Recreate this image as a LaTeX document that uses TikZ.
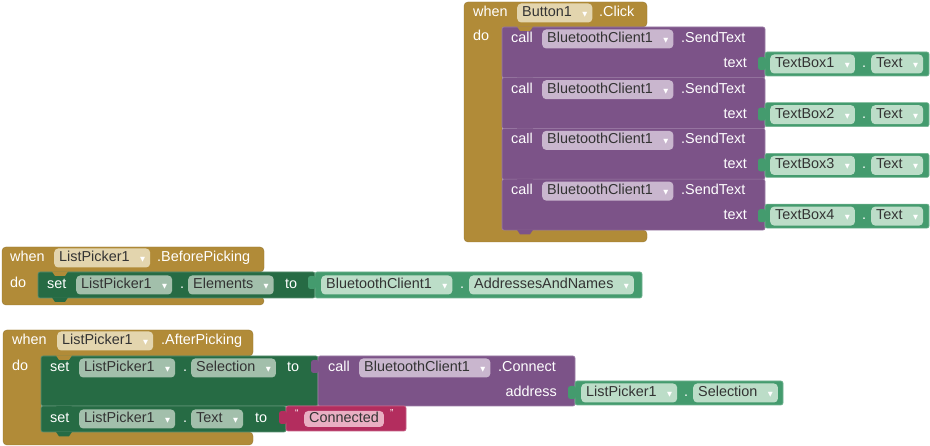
\documentclass[tikz,border=0pt]{standalone}
\usepackage{fontspec}
\setmainfont{Liberation Sans}
\newfontfamily\symfam{DejaVu Sans}
\usetikzlibrary{positioning}

\definecolor{evt}{HTML}{B18B38}
\definecolor{evtpill}{HTML}{E3D5AE}
\definecolor{proc}{HTML}{7C5388}
\definecolor{procpill}{HTML}{C9B6CE}
\definecolor{setc}{HTML}{266B44}
\definecolor{setpill}{HTML}{A2BFAB}
\definecolor{getc}{HTML}{449B6E}
\definecolor{getpill}{HTML}{BCDDC8}
\definecolor{txtc}{HTML}{B32D5E}
\definecolor{txtpill}{HTML}{E9AFC3}
\definecolor{pilltxt}{HTML}{333333}

\newcommand{\lblfont}{\fontsize{14.4}{16}\selectfont}
\newcommand{\dd}{\hspace{10.5pt}{\symfam\fontsize{6.5}{7}\selectfont\textcolor{white}{▼}}\hspace{7pt}}
% small statement bump hanging under a block
\newcommand{\notch}[3]{\fill[#3] (#1,#2-0.5) -- (#1+3,#2+4) -- (#1+13,#2+4) -- (#1+16,#2-0.5) -- cycle;}
% value plug on the left edge of a value block
\newcommand{\plug}[3]{\fill[#3, rounded corners=2.5pt] (#1-7,#2+5) rectangle (#1+1,#2+18);}

\tikzset{
  blk/.style={fill=#1, draw=#1!75!white, line width=0.6pt, rounded corners=2pt},
  evtblk/.style={fill=evt, draw=evt!85!black, line width=0.4pt, rounded corners=4pt},
  pill/.style={fill=#1, rounded corners=4pt, text=pilltxt, anchor=west, minimum height=19pt,
    inner xsep=5pt, inner ysep=0pt, text height=10pt, text depth=3pt, font=\lblfont},
  lbl/.style={text=white, anchor=west, inner sep=0pt, text height=10pt, text depth=3pt, font=\lblfont},
  lble/.style={lbl, anchor=east},
  qt/.style={lbl, font=\fontsize{10}{10}\selectfont},
}

\begin{document}
\begin{tikzpicture}[x=1pt, y=-1pt]
\useasboundingbox (0,0) rectangle (930,446);

% when Button1.Click
\path[evtblk] (464,2) -- (647,2) -- (647,27) -- (502,27) -- (502,230) -- (647,230) -- (647,242) -- (464,242) -- cycle;
\node[lbl] (when1) at (473,13) {when};
\node[pill=evtpill] (btn1) at (517,13) {Button1\dd};
\node[lbl] (click1) at (599,13) {.Click};
\node[lbl] (do1) at (473,37) {do};

\foreach \i/\t in {1/27,2/77.7,3/128.4,4/179.1}{
  \path[blk=proc] (502,\t) rectangle (765,\t+51);
  \node[lbl] (call\i) at (511,\t+12) {call};
  \node[pill=procpill] (bt\i) at (542,\t+12) {BluetoothClient1\dd};
  \node[lbl] (send\i) at (681,\t+12) {.SendText};
  \node[lble] (txt\i) at (747,\t+37) {text};
  \path[blk=getc] (765,\t+25) rectangle (929,\t+49);
  \plug{765}{\t+25}{getc}
  \node[pill=getpill] (tb\i) at (770,\t+37) {TextBox\i\dd};
  \node[lbl] (dot\i) at (862,\t+37) {.};
  \node[pill=getpill] (tp\i) at (871,\t+37) {Text\dd};
}
\notch{517}{27}{evt}
\foreach \t in {78.2,128.9,179.6,230.3}{
  \notch{517}{\t}{proc}
}

% when ListPicker1.BeforePicking
\path[evtblk] (2,247) -- (264,247) -- (264,272) -- (38,272) -- (38,297) -- (264,297) -- (264,305) -- (2,305) -- cycle;
\node[lbl] (when2) at (10,258) {when};
\node[pill=evtpill] (lp2) at (54,258) {ListPicker1\dd};
\node[lbl] (before2) at (157,258) {.BeforePicking};
\node[lbl] (do2) at (10,284) {do};
\path[blk=setc] (38,272) rectangle (315,298);
\notch{52}{272}{evt}
\notch{52}{298}{setc}
\node[lbl] (set2) at (47,285) {set};
\node[pill=setpill] (slp2) at (76,285) {ListPicker1\dd};
\node[lbl] (sdot2) at (180,285) {.};
\node[pill=setpill] (elem2) at (188,285) {Elements\dd};
\node[lbl] (to2) at (285,285) {to};
\path[blk=getc] (315,272) rectangle (642,298);
\plug{315}{271}{getc}
\node[pill=getpill] (gbt2) at (321,285) {BluetoothClient1\dd};
\node[lbl] (gdot2) at (460,285) {.};
\node[pill=getpill] (addr2) at (469,285) {AddressesAndNames\dd};

% when ListPicker1.AfterPicking
\path[evtblk] (3,330) -- (253,330) -- (253,356) -- (41,356) -- (41,432) -- (253,432) -- (253,445) -- (3,445) -- cycle;
\node[lbl] (when3) at (12,341) {when};
\node[pill=evtpill] (lp3) at (57,341) {ListPicker1\dd};
\node[lbl] (after3) at (161,341) {.AfterPicking};
\node[lbl] (do3) at (12,367) {do};

\path[blk=setc] (41,356) rectangle (318,406);
\node[lbl] (set3) at (50,368) {set};
\node[pill=setpill] (slp3) at (79,368) {ListPicker1\dd};
\node[lbl] (sdot3) at (183,368) {.};
\node[pill=setpill] (sel3) at (191,368) {Selection\dd};
\node[lbl] (to3) at (287,368) {to};

\path[blk=proc] (318,356) rectangle (575,406);
\plug{318}{355}{proc}
\node[lbl] (call3) at (328,368) {call};
\node[pill=procpill] (bt3) at (359,368) {BluetoothClient1\dd};
\node[lbl] (conn3) at (498,368) {.Connect};
\node[lble] (addrl3) at (557,393) {address};
\path[blk=getc] (575,381) rectangle (783,405);
\plug{575}{381}{getc}
\node[pill=getpill] (glp3) at (581,393) {ListPicker1\dd};
\node[lbl] (gdot3) at (684,393) {.};
\node[pill=getpill] (gsel3) at (693,393) {Selection\dd};

\path[blk=setc] (41,406) rectangle (286,432);
\node[lbl] (set4) at (50,419) {set};
\node[pill=setpill] (slp4) at (79,419) {ListPicker1\dd};
\node[lbl] (sdot4) at (183,419) {.};
\node[pill=setpill] (stxt4) at (191,419) {Text\dd};
\node[lbl] (to4) at (255,419) {to};
\path[blk=txtc] (286,406) rectangle (406,431);
\plug{286}{406}{txtc}
\node[qt] (lq4) at (295,413) {“};
\node[pill=txtpill, minimum height=16pt] (str4) at (304,419) {Connected};
\node[qt] (rq4) at (390,413) {”};

\notch{56}{356}{evt}
\notch{56}{406.3}{setc}
\notch{56}{432.3}{setc}
\end{tikzpicture}
\end{document}
